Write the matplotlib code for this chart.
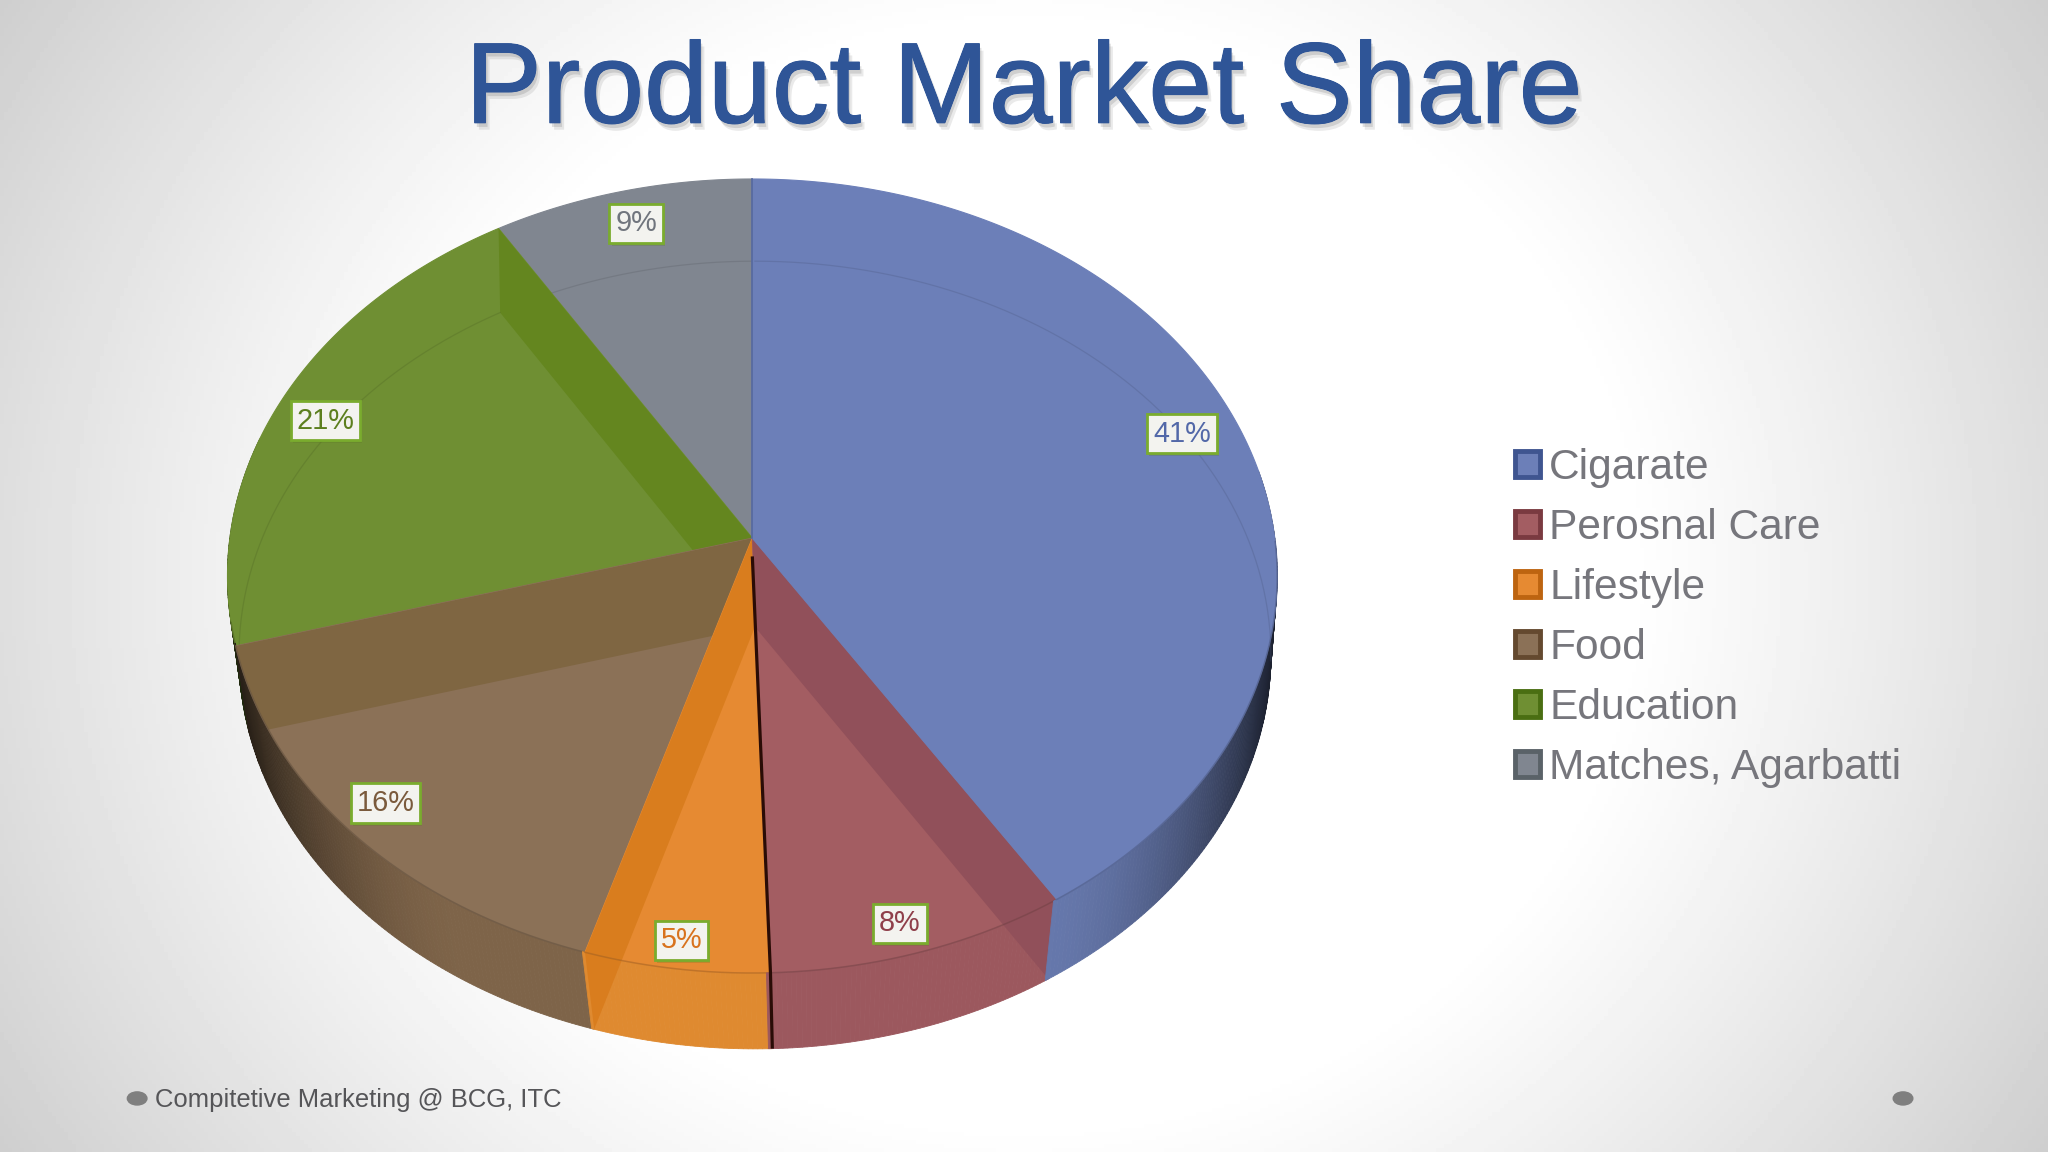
import numpy as np
import matplotlib
matplotlib.use('Agg')
import matplotlib.pyplot as plt
import matplotlib.patheffects as pe
from matplotlib.patches import Ellipse, Patch
from matplotlib.colors import to_rgb

plt.rcParams['font.family'] = ['Liberation Sans', 'DejaVu Sans']

# data (slices as drawn, labels as printed)
categories = ['Cigarate', 'Perosnal Care', 'Lifestyle', 'Food', 'Education', 'Matches, Agarbatti']
shares = [41.0, 8.5, 5.2, 16.0, 20.5, 8.8]
share_labels = ['41%', '8%', '5%', '16%', '21%', '9%']

# styles
face_colors = ['#6C7FB8', '#A35D62', '#E68A32', '#8B7157', '#6F8F33', '#808690']
wall_colors = ['#6C7FB8', '#91505A', '#D97D1E', '#7F6642', '#64861F', '#808690']
rim_colors = ['#6678AC', '#9C585E', '#DF8A30', '#7E6449', '#6F8F33', '#808690']
legend_edges = ['#3F5590', '#7A3A40', '#BD6410', '#64492F', '#4A6E12', '#5A6268']
label_colors = ['#5268A8', '#8F3F4A', '#D8731E', '#7A5A3C', '#5C7F1E', '#70757D']
label_xy = [(905, 331), (689, 706), (522, 719), (295, 614), (249, 321), (487, 170)]

# pie geometry in the 1568x882 layout space
top_disc = dict(cx=576, cy=412, a=400, b=301.2, k=0.0954)
bottom_disc = dict(cx=578, cy=480, a=394, b=300, k=0.0713)


def project(theta, disc):
    # clockwise degrees from 12 o'clock to a point on the tilted disc edge
    t = np.radians(theta)
    d = 1 + disc['k'] * np.cos(t)
    return disc['cx'] + disc['a'] * np.sin(t) / d, disc['cy'] - disc['b'] * np.cos(t) / d


def darken(color, amount):
    return tuple(c * (1 - amount) for c in to_rgb(color))


fig = plt.figure(figsize=(20.48, 11.52), dpi=100)
ax = fig.add_axes([0, 0, 1, 1])
ax.set_xlim(0, 1568)
ax.set_ylim(882, 0)
ax.axis('off')

# slide background, white in the middle and grey towards the sides and corners
gx, gy = np.meshgrid(np.linspace(-1, 1, 512), np.linspace(-1, 1, 288))
dist = np.sqrt(gx ** 2 + (0.62 * gy) ** 2) / np.sqrt(1 + 0.62 ** 2)
shade = 1 - 0.19 * np.clip((dist - 0.5) / 0.5, 0, 1) ** 1.1
ax.imshow(shade, cmap='gray', vmin=0, vmax=1, extent=[0, 1568, 882, 0], aspect='auto', zorder=0)

ends = np.cumsum(shares) * 3.6
starts = np.concatenate([[0], ends[:-1]])
wall_angle = [None, starts[1], ends[2], ends[3], ends[4], None]

# paint from the back of the pie to the front
z = 1
for i in [5, 4, 3, 2, 1, 0]:
    # outer rim, shaded towards the sides
    lo, hi = max(starts[i], 80), min(ends[i], 285)
    if hi > lo:
        steps = np.arange(lo, hi + 0.5, 0.5)
        for a0, a1 in zip(steps[:-1], steps[1:]):
            x0, y0 = project(a0, top_disc)
            x1, y1 = project(a1, top_disc)
            x2, y2 = project(a1, bottom_disc)
            x3, y3 = project(a0, bottom_disc)
            side = abs(np.sin(np.radians(a0)))
            dark = 0.72 * np.clip((side - 0.52) / 0.46, 0, 1) ** 1.7
            col = darken(rim_colors[i], dark)
            ax.fill([x0, x1, x2, x3], [y0, y1, y2, y3], color=col, lw=0.6, zorder=z)

    # top face
    arc = np.linspace(starts[i], ends[i], 200)
    fx, fy = project(arc, top_disc)
    fx = np.concatenate([[top_disc['cx']], fx])
    fy = np.concatenate([[top_disc['cy']], fy])
    face = ax.fill(fx, fy, color=face_colors[i], lw=0.8, zorder=z + 1)[0]

    # cut wall seen through the translucent slice
    if wall_angle[i] is not None:
        ex0, ey0 = project(wall_angle[i], top_disc)
        ex1, ey1 = project(wall_angle[i], bottom_disc)
        wall = ax.fill([top_disc['cx'], ex0, ex1, bottom_disc['cx']],
                       [top_disc['cy'], ey0, ey1, bottom_disc['cy']],
                       color=wall_colors[i], lw=0, zorder=z + 2)[0]
        if i == 3:
            wall.set_clip_path(face)

    # top edge line on the front, faint far edge seen through the back
    ax.plot(*project(arc[(arc > 90) & (arc < 258)], top_disc), color=darken(face_colors[i], 0.3),
            lw=1.1, alpha=0.55, zorder=z + 3)
    back = arc[(arc < 95) | (arc > 262)]
    if len(back) > 1:
        for part in (back[back < 95], back[back > 262]):
            if len(part) > 1:
                ax.plot(*project(part, bottom_disc), color=darken(face_colors[i], 0.3),
                        lw=0.9, alpha=0.3, zorder=z + 3)
    z += 5

# dark sliver between Lifestyle and Perosnal Care, thin line between Matches and Cigarate
ex0, ey0 = project(ends[1], top_disc)
ex1, ey1 = project(ends[1], bottom_disc)
ax.plot([top_disc['cx'], ex0, ex1], [top_disc['cy'] + 14, ey0, ey1], color='#2A0C06', lw=2.3,
        solid_capstyle='butt', zorder=z)
ax.plot([top_disc['cx'], top_disc['cx']], [project(0, top_disc)[1], top_disc['cy']], color='#56699E',
        lw=1.2, zorder=z)

# value labels
for txt, (lx, ly), col in zip(share_labels, label_xy, label_colors):
    ax.text(lx, ly + 1, txt, fontsize=20.8, color=col, ha='center', va='center', zorder=z + 2,
            bbox=dict(boxstyle='square,pad=0.2', fc='#F3F3EF', ec='#7AAC2E', lw=2,
                      path_effects=[pe.withSimplePatchShadow(offset=(1.5, -2), alpha=0.25, shadow_rgbFace='#5A7A20')]))

# legend
handles = [Patch(facecolor=f, edgecolor=e, lw=3.5) for f, e in zip(face_colors, legend_edges)]
ax.legend(handles, categories, loc='center left', bbox_to_anchor=(1160 / 1568, 1 - 473 / 882),
          frameon=False, fontsize=30.6, labelcolor='#76767C', handlelength=0.58, handleheight=0.58,
          handletextpad=0.22, labelspacing=0.47, borderpad=0, borderaxespad=0)

# title and footer
ax.text(784, 94, 'Product Market Share', fontsize=82.7, color='#2F5597', ha='center', va='baseline', zorder=z + 2,
        path_effects=[pe.withSimplePatchShadow(offset=(3, -5), alpha=0.12, shadow_rgbFace='#555555'),
                      pe.withSimplePatchShadow(offset=(1.5, -3), alpha=0.18, shadow_rgbFace='#555555'),
                      pe.Stroke(linewidth=0.8, foreground='#2F5597'), pe.Normal()])
ax.text(119, 842, 'Compitetive Marketing @ BCG, ITC', fontsize=18.45, color='#555558', ha='left', va='center',
        zorder=z + 2)
for ex in (105, 1457):
    ax.add_patch(Ellipse((ex, 841), 15, 10, color='#7F7F7F', zorder=z + 2))

fig.savefig('out.png', dpi=100)
